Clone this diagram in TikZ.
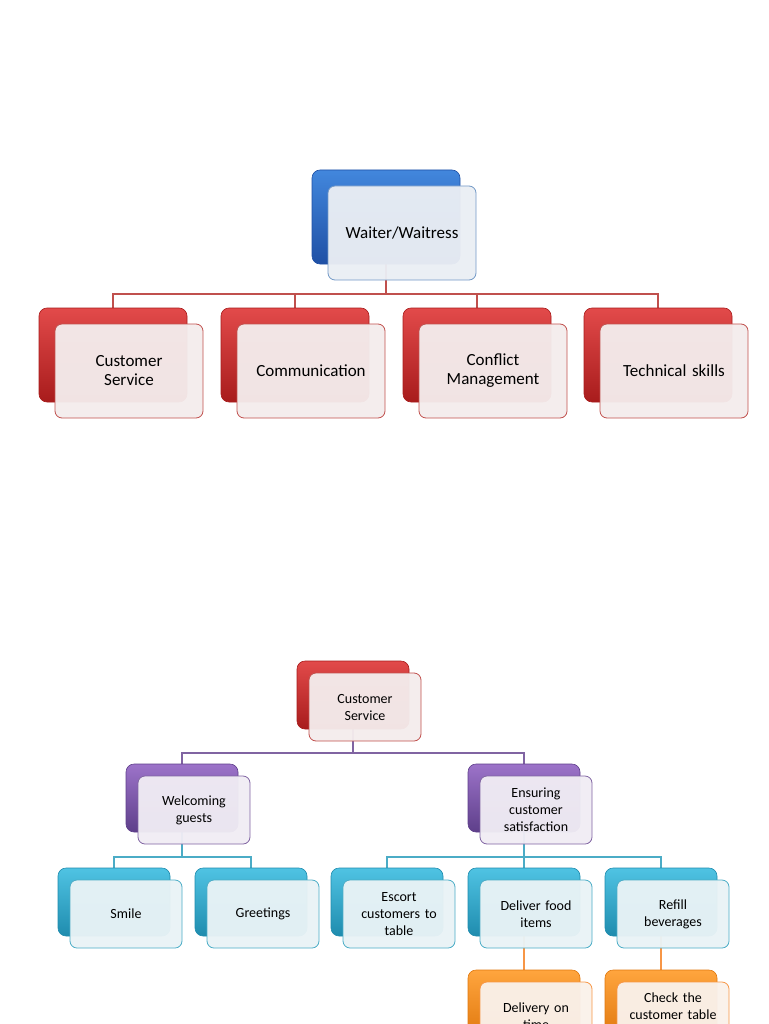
\documentclass[tikz,border=0pt]{standalone}
\usepackage{fontspec}
\setmainfont{Carlito}
\usetikzlibrary{backgrounds}
\definecolor{rA}{HTML}{E24A4A}\definecolor{rB}{HTML}{A81C1C}\definecolor{rL}{HTML}{C0504D}\definecolor{rF}{HTML}{F4ECEC}
\definecolor{bA}{HTML}{4287DD}\definecolor{bB}{HTML}{1F50A5}\definecolor{bL}{HTML}{7399C6}\definecolor{bF}{HTML}{EAEEF4}
\definecolor{pA}{HTML}{9C73C9}\definecolor{pB}{HTML}{5E3F8A}\definecolor{pL}{HTML}{8064A2}\definecolor{pF}{HTML}{F0ECF4}
\definecolor{cA}{HTML}{4FC3E3}\definecolor{cB}{HTML}{1F8CAE}\definecolor{cL}{HTML}{4BACC6}\definecolor{cF}{HTML}{E9F3F6}
\definecolor{oA}{HTML}{FFA53E}\definecolor{oB}{HTML}{E0780E}\definecolor{oL}{HTML}{F79646}\definecolor{oF}{HTML}{FAF1EA}
\tikzset{
 backbox/.style={rounded corners=8pt,top color=#1A,bottom color=#1B,draw=#1B,line width=0.6pt,inner sep=0pt},
 frontbox/.style={rounded corners=7pt,fill=#1F,fill opacity=0.96,text opacity=1,draw=#1L,line width=0.8pt,align=center,text=black,inner sep=2pt},
 conn/.style={line width=1.5pt,draw=#1},
}
% \bx{name}{x}{y}{w}{h}{offset}{colour}{text}
\newcommand{\bx}[8]{%
 \node[backbox=#7,minimum width=#4pt,minimum height=#5pt] (#1-b) at ({#2+#4/2},{#3+#5/2}) {};
 \node[frontbox=#7,minimum width=#4pt,minimum height=#5pt,text width={(#4-14)*1pt}] (#1) at ({#2+#4/2+#6},{#3+#5/2+#6}) {#8};}
\begin{document}
\begin{tikzpicture}[x=1pt,y=-1pt]
\useasboundingbox (0,0) rectangle (768,1024);
\begin{scope}[font=\fontsize{17}{19}\selectfont]
\bx{ww}{312}{170}{148}{94}{16}{b}{Waiter/Waitress}
\bx{cs}{39}{308}{148}{94}{16}{r}{Customer\\Service}
\bx{co}{221}{308}{148}{94}{16}{r}{Communication}
\bx{cm}{403}{308}{148}{94}{16}{r}{Conflict\\Management}
\bx{ts}{584}{308}{148}{94}{16}{r}{Technical skills}
\end{scope}
\begin{scope}[font=\fontsize{14}{17}\selectfont]
\bx{cs2}{297}{661}{112}{68}{12}{r}{Customer\\Service}
\bx{wg}{126}{764}{112}{68}{12}{p}{Welcoming\\guests}
\bx{ec}{468}{764}{112}{68}{12}{p}{Ensuring\\customer\\satisfaction}
\bx{sm}{58}{868}{112}{68}{12}{c}{Smile}
\bx{gr}{195}{868}{112}{68}{12}{c}{Greetings}
\bx{es}{331}{868}{112}{68}{12}{c}{Escort\\customers to\\table}
\bx{df}{468}{868}{112}{68}{12}{c}{Deliver food\\items}
\bx{rb}{605}{868}{112}{68}{12}{c}{Refill\\beverages}
\bx{dt}{468}{970}{112}{68}{12}{o}{Delivery on\\time}
\bx{ct}{605}{970}{112}{68}{12}{o}{Check the\\customer table\\regularly}
\end{scope}
\begin{scope}[on background layer]
\foreach \c in {cs,co,cm,ts}
 \draw[conn=rL] (ww-b.center) -- (ww-b.center |- 0,294) -| (\c-b.north);
\foreach \c in {wg,ec}
 \draw[conn=pL] (cs2-b.center) -- (cs2-b.center |- 0,753) -| (\c-b.north);
\foreach \c in {sm,gr}
 \draw[conn=cL] (wg-b.center) -- (wg-b.center |- 0,857) -| (\c-b.north);
\foreach \c in {es,df,rb}
 \draw[conn=cL] (ec-b.center) -- (ec-b.center |- 0,857) -| (\c-b.north);
\draw[conn=oL] (df-b.center) -- (dt-b.north);
\draw[conn=oL] (rb-b.center) -- (ct-b.north);
\end{scope}
\end{tikzpicture}
\end{document}
